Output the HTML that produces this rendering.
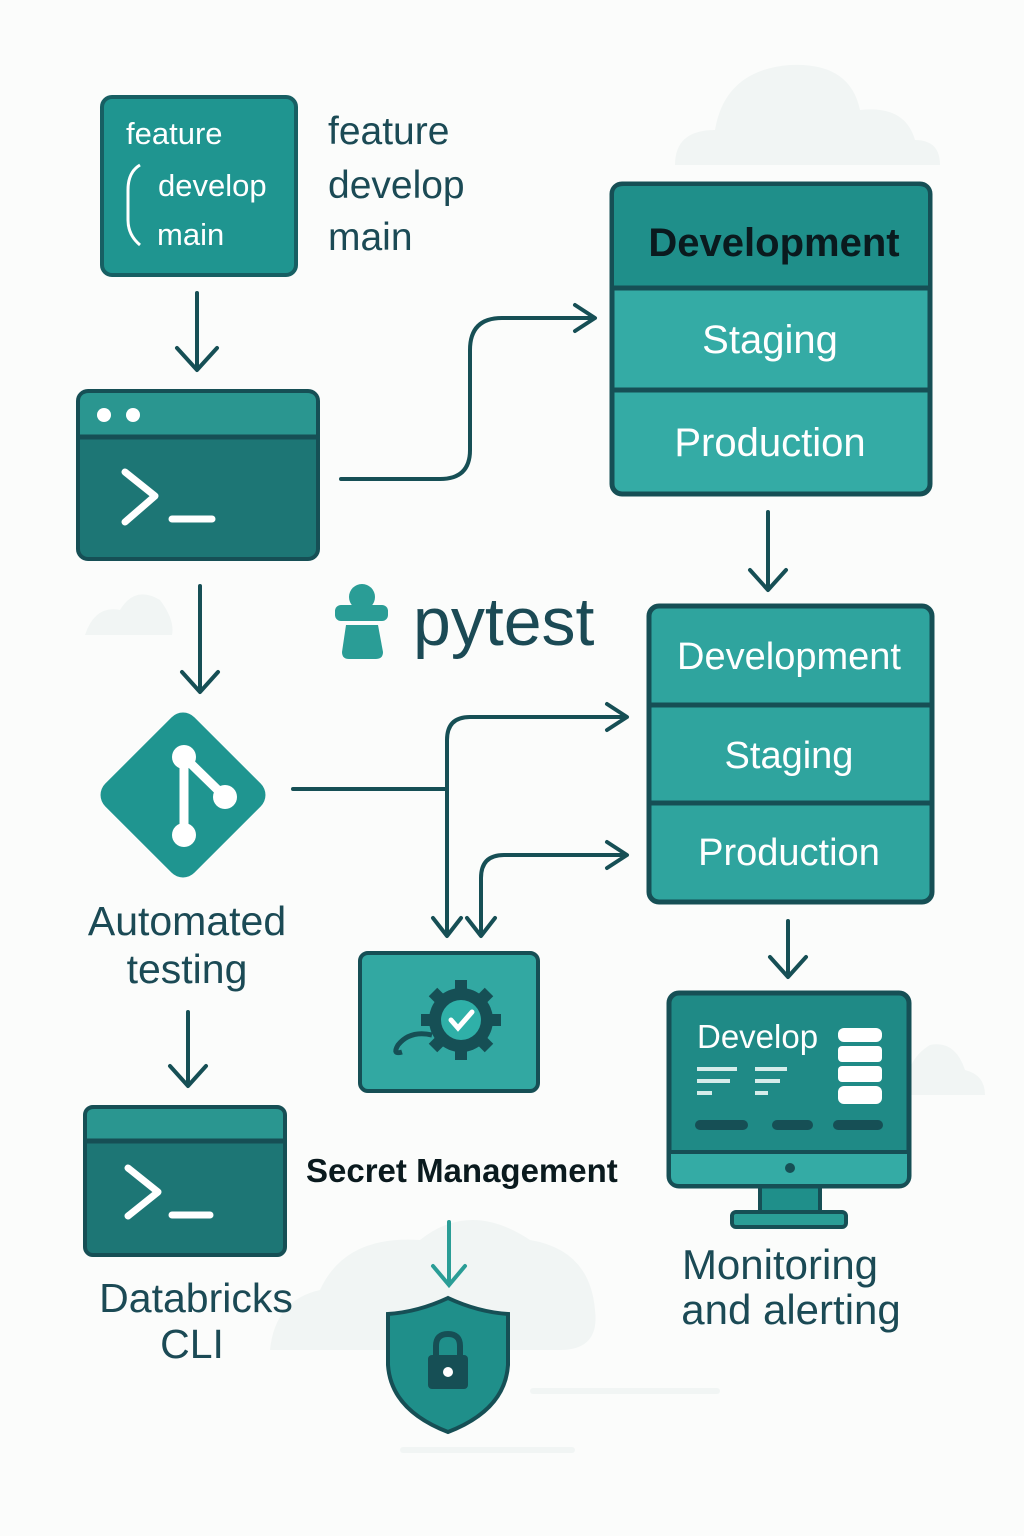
<!DOCTYPE html>
<html><head><meta charset="utf-8"><style>
html,body{margin:0;padding:0;background:#fbfcfb;}
svg{display:block;}
text{font-family:"Liberation Sans","DejaVu Sans",sans-serif;}
</style></head><body>
<svg width="1024" height="1536" viewBox="0 0 1024 1536" xmlns="http://www.w3.org/2000/svg">
<rect width="1024" height="1536" fill="#fbfcfb"/>
<!-- clouds -->
<g fill="#f1f5f4">
<path d="M675 165 Q675 130 715 130 Q725 70 790 65 Q850 62 860 110 Q905 105 915 140 Q940 140 940 165 Z"/>
<path d="M85 635 Q95 605 120 610 Q135 585 160 600 Q175 620 172 635 Z"/>
<path d="M270 1350 Q275 1300 320 1290 Q345 1235 420 1240 Q470 1200 530 1240 Q590 1250 595 1310 Q600 1350 560 1350 Z"/>
<path d="M905 1095 Q905 1060 930 1045 Q955 1040 965 1070 Q985 1075 985 1095 Z"/>
<rect x="530" y="1388" width="190" height="6" rx="3"/>
<rect x="400" y="1447" width="175" height="6" rx="3"/>
</g>
<g stroke="#164f55" stroke-width="4" fill="none" stroke-linecap="round" stroke-linejoin="round">
<path d="M197 293 V368 M177 348 L197 370 L217 348"/>
<path d="M341 479 H440 Q470 479 470 450 V350 Q470 318 502 318 H593 M575 305 L595 318 L575 331"/>
<path d="M768 512 V588 M750 570 L768 590 L786 570"/>
<path d="M200 586 V690 M182 672 L200 692 L218 672"/>
<path d="M293 789 H447"/>
<path d="M447 935 V740 Q447 717 470 717 H625 M607 704 L627 717 L607 730"/>
<path d="M433 918 L447 936 L461 918"/>
<path d="M481 935 V878 Q481 855 504 855 H625 M607 842 L627 855 L607 868"/>
<path d="M467 918 L481 936 L495 918"/>
<path d="M188 1012 V1083 M170 1066 L188 1086 L206 1066"/>
<path d="M788 921 V975 M770 957 L788 977 L806 957"/>
</g>
<path d="M449 1222 V1283 M433 1266 L449 1285 L465 1266" stroke="#2a9d96" stroke-width="4" fill="none" stroke-linecap="round"/>
<!-- box1 -->
<rect x="102" y="97" width="194" height="178" rx="10" fill="#1f9590" stroke="#175f63" stroke-width="4"/>
<g fill="#fff" font-size="31">
<text x="126" y="144">feature</text><text x="158" y="196">develop</text><text x="157" y="245">main</text>
</g>
<path d="M140 165 Q128 172 128 190 V220 Q128 235 140 245" stroke="#fff" stroke-width="3" fill="none"/>
<g fill="#1b4a55" font-size="39">
<text x="328" y="144">feature</text><text x="328" y="198">develop</text><text x="328" y="250">main</text>
</g>
<!-- terminal 1 -->
<rect x="78" y="391" width="240" height="168" rx="10" fill="#1d7675" stroke="#164f55" stroke-width="4"/>
<path d="M80 437 V401 Q80 393 90 393 H306 Q316 393 316 401 V437 Z" fill="#2a9690"/>
<line x1="80" y1="437" x2="316" y2="437" stroke="#164f55" stroke-width="5"/>
<circle cx="104" cy="415" r="7" fill="#fff"/><circle cx="133" cy="415" r="7" fill="#fff"/>
<path d="M125 472 L155 496 L125 522" stroke="#fff" stroke-width="7" fill="none" stroke-linecap="round" stroke-linejoin="round"/>
<line x1="172" y1="519" x2="212" y2="519" stroke="#fff" stroke-width="7" stroke-linecap="round"/>
<!-- dev box 1 -->
<rect x="612" y="184" width="318" height="310" rx="10" fill="#34aba5" stroke="#164f55" stroke-width="5"/>
<path d="M614 288 V194 Q614 186 624 186 H918 Q928 186 928 194 V288 Z" fill="#1f8f8a"/>
<line x1="614" y1="288" x2="928" y2="288" stroke="#164f55" stroke-width="5"/>
<line x1="614" y1="390" x2="928" y2="390" stroke="#164f55" stroke-width="5"/>
<text x="774" y="256" font-size="40" font-weight="bold" fill="#0a1a1e" text-anchor="middle">Development</text>
<text x="770" y="353" font-size="40" fill="#fff" text-anchor="middle">Staging</text>
<text x="770" y="456" font-size="40" fill="#fff" text-anchor="middle">Production</text>
<!-- dev box 2 -->
<rect x="649" y="606" width="283" height="296" rx="10" fill="#2fa49e" stroke="#164f55" stroke-width="5"/>
<line x1="651" y1="705" x2="930" y2="705" stroke="#164f55" stroke-width="5"/>
<line x1="651" y1="803" x2="930" y2="803" stroke="#164f55" stroke-width="5"/>
<g fill="#fff" font-size="38" text-anchor="middle">
<text x="789" y="669">Development</text><text x="789" y="768">Staging</text><text x="789" y="865">Production</text>
</g>
<!-- pytest -->
<g fill="#2a9d96">
<circle cx="362" cy="597" r="13"/>
<rect x="335" y="605" width="53" height="16" rx="6"/>
<path d="M346 625 H378 L383 652 Q383 659 376 659 H349 Q342 659 342 652 Z"/>
</g>
<text x="413" y="645" font-size="68" fill="#1b4a55">pytest</text>
<!-- git diamond -->
<rect x="120" y="732" width="126" height="126" rx="16" fill="#1f9590" transform="rotate(45 183 795)"/>
<path d="M184 757 V835 M184 757 L225 797" stroke="#fff" stroke-width="9"/>
<circle cx="184" cy="757" r="12" fill="#fff"/><circle cx="225" cy="797" r="12" fill="#fff"/><circle cx="184" cy="835" r="12" fill="#fff"/>
<g fill="#1b4a55" font-size="41" text-anchor="middle">
<text x="187" y="935">Automated</text><text x="187" y="983">testing</text>
</g>
<!-- gear box -->
<rect x="360" y="953" width="178" height="138" rx="8" fill="#32a8a2" stroke="#164f55" stroke-width="4"/>
<g fill="#164f55">
<circle cx="461" cy="1020" r="32"/>
<g stroke="#164f55" stroke-width="12">
<line x1="461" y1="980" x2="461" y2="1060"/><line x1="421" y1="1020" x2="501" y2="1020"/>
<line x1="433" y1="992" x2="489" y2="1048"/><line x1="489" y1="992" x2="433" y2="1048"/>
</g>
</g>
<circle cx="461" cy="1020" r="20" fill="#2fb0a8"/>
<path d="M451 1020 L458 1028 L472 1012" stroke="#fff" stroke-width="5" fill="none" stroke-linecap="round"/>
<path d="M432 1035 Q410 1030 398 1045 Q392 1055 402 1052" stroke="#164f55" stroke-width="5" fill="none"/>
<!-- terminal 2 -->
<rect x="85" y="1107" width="200" height="148" rx="8" fill="#1d7675" stroke="#164f55" stroke-width="4"/>
<path d="M87 1140 V1115 Q87 1109 95 1109 H275 Q283 1109 283 1115 V1140 Z" fill="#2a9690"/>
<line x1="87" y1="1141" x2="283" y2="1141" stroke="#164f55" stroke-width="5"/>
<path d="M128 1168 L158 1192 L128 1216" stroke="#fff" stroke-width="7" fill="none" stroke-linecap="round" stroke-linejoin="round"/>
<line x1="172" y1="1215" x2="210" y2="1215" stroke="#fff" stroke-width="7" stroke-linecap="round"/>
<g fill="#1b4a55" font-size="41" text-anchor="middle">
<text x="196" y="1312">Databricks</text><text x="192" y="1358">CLI</text>
</g>
<text x="306" y="1182" font-size="33" font-weight="bold" fill="#0a1a1e">Secret Management</text>
<!-- shield -->
<path d="M448 1298 Q478 1312 508 1314 V1365 Q505 1410 448 1432 Q391 1410 388 1365 V1314 Q418 1312 448 1298 Z" fill="#1f8f8a" stroke="#164f55" stroke-width="4"/>
<path d="M436 1356 V1346 Q436 1334 448 1334 Q460 1334 460 1346 V1356" stroke="#164f55" stroke-width="6" fill="none"/>
<rect x="428" y="1355" width="40" height="34" rx="4" fill="#164f55"/>
<circle cx="448" cy="1372" r="5" fill="#fff"/>
<!-- monitor -->
<rect x="760" y="1186" width="60" height="30" fill="#1f8f8a" stroke="#164f55" stroke-width="4"/>
<rect x="732" y="1212" width="114" height="15" rx="4" fill="#2a9d96" stroke="#164f55" stroke-width="4"/>
<rect x="669" y="993" width="240" height="193" rx="10" fill="#1f8a86" stroke="#164f55" stroke-width="5"/>
<path d="M671 1152 H907 V1176 Q907 1184 899 1184 H679 Q671 1184 671 1176 Z" fill="#34aba5"/>
<line x1="671" y1="1152" x2="907" y2="1152" stroke="#164f55" stroke-width="4"/>
<circle cx="790" cy="1168" r="5" fill="#164f55"/>
<text x="697" y="1048" font-size="33" fill="#fff">Develop</text>
<g fill="#fff">
<rect x="838" y="1028" width="44" height="14" rx="6"/><rect x="838" y="1046" width="44" height="16" rx="4"/>
<rect x="838" y="1066" width="44" height="16" rx="4"/><rect x="838" y="1086" width="44" height="18" rx="6"/>
</g>
<g stroke="#d5ecea" stroke-width="4">
<line x1="697" y1="1069" x2="737" y2="1069"/><line x1="697" y1="1081" x2="730" y2="1081"/><line x1="697" y1="1093" x2="712" y2="1093"/>
<line x1="755" y1="1069" x2="787" y2="1069"/><line x1="755" y1="1081" x2="780" y2="1081"/><line x1="755" y1="1093" x2="768" y2="1093"/>
</g>
<g stroke="#164f55" stroke-width="10" stroke-linecap="round">
<line x1="700" y1="1125" x2="743" y2="1125"/><line x1="777" y1="1125" x2="808" y2="1125"/><line x1="838" y1="1125" x2="878" y2="1125"/>
</g>
<g fill="#1b4a55" font-size="42" text-anchor="middle">
<text x="780" y="1279">Monitoring</text><text x="791" y="1324">and alerting</text>
</g>
</svg>
</body></html>
